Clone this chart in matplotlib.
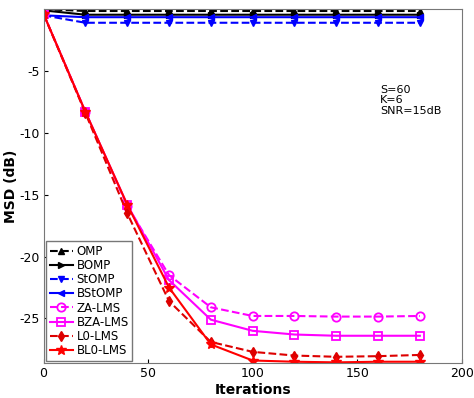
import matplotlib
matplotlib.use("Agg")
import matplotlib.pyplot as plt

plt.rcParams['font.family'] = ['DejaVu Sans']
plt.rcParams['axes.unicode_minus'] = False

iters = [0, 20, 40, 60, 80, 100, 120, 140, 160, 180]

omp = [0.0, -0.15, -0.15, -0.15, -0.15, -0.15, -0.15, -0.15, -0.15, -0.15]
bomp = [-0.1, -0.45, -0.45, -0.45, -0.45, -0.45, -0.45, -0.45, -0.45, -0.45]
stomp = [-0.5, -1.1, -1.1, -1.1, -1.1, -1.1, -1.1, -1.1, -1.1, -1.1]
bstomp = [-0.5, -0.65, -0.65, -0.65, -0.65, -0.65, -0.65, -0.65, -0.65, -0.65]
za_lms = [-0.4, -8.3, -15.9, -21.5, -24.1, -24.8, -24.8, -24.85, -24.85, -24.8]
bza_lms = [-0.4, -8.3, -15.8, -21.9, -25.1, -26.0, -26.3, -26.4, -26.4, -26.4]
l0_lms = [-0.4, -8.4, -16.5, -23.6, -26.9, -27.7, -28.0, -28.1, -28.05, -27.95]
bl0_lms = [-0.4, -8.3, -15.8, -22.5, -27.1, -28.4, -28.5, -28.55, -28.5, -28.5]

fig = plt.figure(figsize=(4.74, 3.98), dpi=100)
ax = fig.add_axes([0.092, 0.088, 0.882, 0.889])

ax.plot(iters, omp, 'k--^', lw=1.5, ms=5, label='OMP')
ax.plot(iters, bomp, 'k->', lw=1.5, ms=5, label='BOMP')
ax.plot(iters, stomp, 'b--v', lw=1.5, ms=5, label='StOMP')
ax.plot(iters, bstomp, 'b-<', lw=1.5, ms=5, label='BStOMP')
ax.plot(iters, za_lms, '--o', color='#ff00ff', mfc='none', mew=1.3, lw=1.5, ms=6, label='ZA-LMS')
ax.plot(iters, bza_lms, '-s', color='#ff00ff', mfc='none', mew=1.3, lw=1.5, ms=5.5, label='BZA-LMS')
ax.plot(iters, l0_lms, '--d', color='#dd0000', lw=1.5, ms=5.5, label='L0-LMS')
ax.plot(iters, bl0_lms, '-*', color='#ff0000', lw=1.5, ms=7, label='BL0-LMS')

ax.set_xlim(0, 200)
ax.set_ylim(-28.6, 0)
ax.set_xticks([0, 50, 100, 150, 200])
ax.set_yticks([-25, -20, -15, -10, -5])
ax.tick_params(direction='in', labelsize=9, length=3, pad=3)
for s in ax.spines.values():
    s.set_color('#777777')

ax.set_xlabel('Iterations', fontsize=10, fontweight='bold', labelpad=2)
ax.set_ylabel('MSD (dB)', fontsize=10, fontweight='bold', labelpad=1)

ax.text(161, -6.1, 'S=60\nK=6\nSNR=15dB', fontsize=8, va='top', linespacing=1.1)

leg = ax.legend(loc='lower left', fontsize=8.5, handlelength=2.0, labelspacing=0.1,
                borderpad=0.3, handletextpad=0.3, borderaxespad=0.2, fancybox=False,
                framealpha=1)
leg.get_frame().set_edgecolor('#777777')

fig.savefig('out.png', dpi=100)
